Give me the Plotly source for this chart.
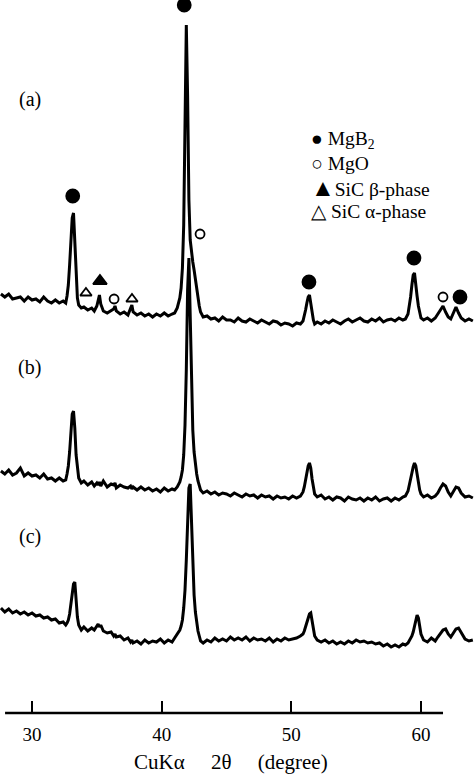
"""
XRD patterns (a)-(c) of MgB2 samples, stacked, with phase markers on (a).
Values read off the original figure (arbitrary intensity units).
"""

import plotly.graph_objects as go

# ------------------------------------------------------------
# Data
# ------------------------------------------------------------
two_theta = [
    27.6, 27.9, 28.2, 28.5, 28.8, 29.1, 29.4, 29.7, 30.0, 30.3, 30.6, 30.9,
    31.2, 31.5, 31.8, 32.1, 32.4,
    32.6, 32.7, 32.8, 32.9, 33.0, 33.1, 33.2, 33.3, 33.4, 33.5, 33.6, 33.8,
    34.0, 34.3, 34.6, 34.8, 35.0, 35.1, 35.2, 35.3, 35.5, 35.8, 36.1, 36.3,
    36.4, 36.5, 36.8, 37.1, 37.4, 37.6, 37.7, 37.8, 38.1, 38.4, 38.7, 39.0,
    39.3, 39.6, 39.9, 40.2, 40.5, 40.8, 41.0, 41.2,
    41.3, 41.4, 41.5, 41.6, 41.7, 41.8, 41.9, 42.0, 42.1, 42.2, 42.3, 42.4,
    42.5, 42.6, 42.7, 42.8, 42.9, 43.0, 43.2,
    43.5, 43.8, 44.1, 44.4, 44.7, 45.0, 45.3, 45.6, 45.9, 46.2, 46.5, 46.8,
    47.1, 47.4, 47.7, 48.0, 48.3, 48.6, 48.9, 49.2, 49.5, 49.8, 50.1, 50.4,
    50.7,
    50.9, 51.0, 51.1, 51.2, 51.3, 51.4, 51.5, 51.6, 51.7, 51.8, 52.0,
    52.3, 52.6, 52.9, 53.2, 53.5, 53.8, 54.1, 54.4, 54.7, 55.0, 55.3, 55.6,
    55.9, 56.2, 56.5, 56.8, 57.1, 57.4, 57.7, 58.0, 58.3, 58.6, 58.8,
    59.0, 59.1, 59.2, 59.3, 59.4, 59.5, 59.6, 59.7, 59.8, 59.9, 60.0, 60.2,
    60.5, 60.8, 61.1, 61.3, 61.5, 61.7, 61.9, 62.1, 62.3, 62.5, 62.7, 62.9,
    63.1, 63.4, 63.7, 64.0,
]

intensity_a = [
    36, 33, 36, 31, 32, 33, 29, 33, 30, 31, 28, 33,
    29, 27, 30, 27, 29,
    27, 34, 45, 65, 90, 112, 117, 85, 50, 32, 25, 22,
    23, 20, 22, 19, 24, 30, 35, 26, 19, 17, 19, 21,
    24, 19, 16, 18, 15, 22, 25, 18, 15, 17, 14, 16,
    13, 16, 14, 17, 14, 16, 17, 22,
    26, 32, 42, 62, 105, 200, 305, 235, 130, 90, 75, 68,
    60, 50, 40, 32, 24, 18, 13,
    14, 11, 12, 9, 13, 10, 10, 8, 12, 9, 8, 11,
    9, 7, 10, 8, 6, 9, 8, 5, 7, 6, 4, 7,
    6,
    9, 14, 20, 27, 33, 35, 26, 16, 10, 6, 8,
    6, 9, 7, 10, 8, 6, 9, 11, 8, 10, 12, 9,
    8, 11, 9, 12, 8, 10, 11, 9, 12, 10, 11,
    16, 23, 33, 45, 55, 57, 48, 34, 24, 17, 12, 10,
    12, 9, 12, 16, 20, 24, 18, 13, 11, 18, 23, 17,
    12, 9, 11, 9,
]

intensity_b = [
    29, 26, 30, 25, 27, 32, 24, 27, 24, 25, 22, 26,
    21, 22, 19, 22, 19,
    20, 26, 34, 48, 68, 86, 89, 72, 45, 30, 22, 17,
    19, 15, 18, 14, 17, 15, 18, 14, 19, 13, 16, 15,
    17, 12, 15, 13, 12, 14, 11, 13, 10, 13, 10, 12,
    9, 11, 8, 12, 9, 11, 10, 13,
    16, 18, 23, 30, 45, 75, 130, 210, 242, 190, 115, 70,
    48, 35, 26, 19, 14, 10, 7,
    9, 6, 8, 5, 7, 6, 4, 7, 5, 3, 6, 4,
    5, 2, 5, 3, 4, 1, 4, 2, 3, 1, 4, 2,
    4,
    8, 13, 20, 28, 34, 37, 32, 21, 12, 6, 3,
    5, 1, 3, 0, 3, 2, -1, 3, 1, 0, 2, -1,
    2, 0, 3, -1, 1, 2, -1, 2, 0, 3, 4,
    9, 14, 20, 27, 33, 37, 34, 26, 17, 10, 6, 3,
    5, 2, 4, 7, 12, 16, 14, 8, 4, 9, 13, 12,
    7, 3, 4, 2,
]

intensity_c = [
    42, 38, 41, 37, 39, 36, 38, 35, 37, 34, 35, 32,
    33, 30, 31, 27, 28,
    25, 27, 30, 36, 45, 57, 66, 68, 50, 33, 25, 20,
    23, 19, 22, 20, 24, 26, 23, 25, 19, 17, 18, 14,
    16, 13, 14, 10, 12, 8, 10, 7, 9, 6, 10, 7,
    9, 8, 11, 7, 10, 8, 12, 16,
    18, 20, 24, 30, 42, 60, 90, 130, 162, 166, 130, 85,
    55, 38, 26, 19, 14, 9, 7,
    10, 8, 12, 9, 11, 9, 13, 10, 12, 10, 13, 9,
    12, 10, 11, 9, 12, 8, 11, 9, 12, 10, 11, 12,
    14,
    16, 19, 23, 28, 33, 36, 37, 28, 19, 14, 10,
    8, 10, 7, 9, 6, 8, 6, 9, 7, 10, 8, 9,
    7, 8, 6, 7, 4, 6, 3, 5, 3, 6, 5,
    7, 9, 11, 14, 18, 23, 30, 35, 32, 23, 16, 10,
    8, 12, 9, 13, 16, 20, 21, 16, 13, 17, 21, 22,
    17, 11, 9, 10,
]

# phase markers above the peaks of pattern (a): 2-theta and height (pattern (a) units)
mgb2_2theta = [33.14, 41.74, 51.36, 59.46, 63.01]
mgb2_height = [134, 325, 48, 72, 33]
mgo_2theta = [36.33, 42.96, 61.70]
mgo_height = [31, 96, 33]
sic_beta_2theta = [35.24]
sic_beta_height = [49]
sic_alpha_2theta = [34.16, 37.71]
sic_alpha_height = [37, 31]

tick_values = [30, 40, 50, 60]
pattern_labels = ["(a)", "(b)", "(c)"]
key_lines = [
    "\u25cf MgB<sub>2</sub>",
    "\u25cb MgO",
    "<span style='font-size:24px'>\u25b2</span>SiC \u03b2-phase",
    "\u25b3 SiC \u03b1-phase",
]

# ------------------------------------------------------------
# Layout constants (stacking offsets, styles)
# ------------------------------------------------------------
OFFSETS = [383, 213, 63]
LABEL_Y = [0.860, 0.485, 0.248]
KEY_Y = [0.804, 0.770, 0.736, 0.703]
FONT = "Liberation Serif"
INK = "black"


def shift(values, offset):
    return [v + offset for v in values]


fig = go.Figure()

for values, offset in zip([intensity_a, intensity_b, intensity_c], OFFSETS):
    fig.add_trace(go.Scatter(
        x=two_theta,
        y=shift(values, offset),
        mode="lines",
        line=dict(color=INK, width=3),
        showlegend=False,
        hoverinfo="skip",
    ))

markers = [
    (mgb2_2theta, mgb2_height, "circle", 13),
    (mgo_2theta, mgo_height, "circle-open", 9),
    (sic_beta_2theta, sic_beta_height, "triangle-up", 12),
    (sic_alpha_2theta, sic_alpha_height, "triangle-up-open", 10),
]

for xs, hs, symbol, size in markers:
    fig.add_trace(go.Scatter(
        x=xs,
        y=shift(hs, OFFSETS[0]),
        mode="markers",
        marker=dict(symbol=symbol, size=size, color=INK,
                    line=dict(color=INK, width=1.8)),
        cliponaxis=False,
        showlegend=False,
    ))

# key (typeset like the original, symbol glyph + phase name)
for line, ky in zip(key_lines, KEY_Y):
    fig.add_annotation(
        x=0.652, y=ky, xref="paper", yref="paper",
        xanchor="left", yanchor="middle",
        text=line, showarrow=False,
        font=dict(family=FONT, size=19.5, color=INK),
    )

for label, ly in zip(pattern_labels, LABEL_Y):
    fig.add_annotation(
        x=0.063, y=ly, xref="paper", yref="paper",
        xanchor="center", yanchor="middle",
        text=label, showarrow=False,
        font=dict(family=FONT, size=20, color=INK),
    )

fig.add_annotation(
    x=0.487, y=-0.069, xref="paper", yref="paper",
    text="CuK\u03b1\u00a0\u00a0\u00a0\u00a0\u00a02\u03b8\u00a0\u00a0\u00a0\u00a0\u00a0(degree)",
    showarrow=False, xanchor="center", yanchor="middle",
    font=dict(family=FONT, size=21, color=INK),
)

# axis baseline (does not span the whole plot width in the original)
fig.add_shape(
    type="line", xref="x", yref="paper",
    x0=27.92, x1=61.70, y0=0, y1=0,
    line=dict(color=INK, width=2.5),
)

fig.update_layout(
    width=474,
    height=775,
    margin=dict(l=0, r=0, t=0, b=62),
    paper_bgcolor="white",
    plot_bgcolor="white",
    font=dict(family=FONT, color=INK),
    showlegend=False,
    xaxis=dict(
        range=[27.53, 64.09],
        tickvals=tick_values,
        ticks="inside",
        ticklen=12,
        tickwidth=2,
        tickcolor=INK,
        ticklabelstandoff=8,
        tickfont=dict(family=FONT, size=19, color=INK),
        showgrid=False,
        zeroline=False,
        showline=False,
    ),
    yaxis=dict(
        range=[0, 713],
        visible=False,
    ),
)

fig.write_html(
    "out.html",
    config={"displayModeBar": False},
    post_script="document.body.style.margin = '0';",
)
